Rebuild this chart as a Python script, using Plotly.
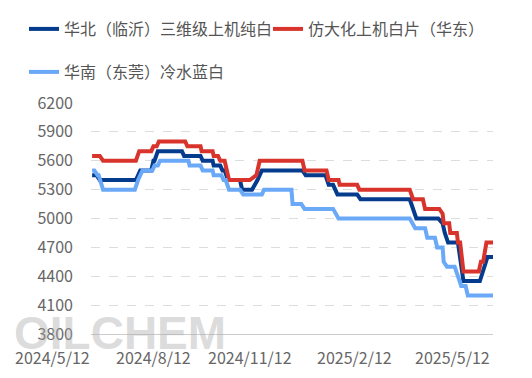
import plotly.graph_objects as go

# ---- data ----
navy_dates = ["2024-05-12","2024-05-16","2024-05-19","2024-06-21","2024-06-25","2024-07-05","2024-07-07","2024-07-08",
              "2024-07-11","2024-08-02","2024-08-04","2024-08-19","2024-08-21","2024-08-30","2024-08-31","2024-09-06",
              "2024-09-08","2024-09-10","2024-09-13","2024-09-24","2024-09-26","2024-10-05","2024-10-10","2024-10-14",
              "2024-11-20","2024-11-23","2024-12-11","2024-12-14","2024-12-18","2024-12-22","2025-01-09","2025-01-12",
              "2025-02-26","2025-03-01","2025-03-04","2025-03-24","2025-03-28","2025-03-30","2025-04-02","2025-04-11",
              "2025-04-16","2025-05-01","2025-05-04","2025-05-08","2025-05-13"]
navy_vals = [5450,5450,5400,5400,5500,5500,5600,5600,
             5700,5700,5650,5650,5600,5600,5550,5550,
             5500,5500,5400,5400,5300,5300,5400,5500,
             5500,5450,5450,5350,5350,5250,5250,5200,
             5200,5100,5000,5000,4950,4850,4750,4750,
             4350,4350,4450,4600,4600]

red_dates = ["2024-05-12","2024-05-19","2024-05-22","2024-06-21","2024-06-24","2024-07-05","2024-07-07","2024-07-10",
             "2024-07-12","2024-08-05","2024-08-07","2024-08-19","2024-08-20","2024-08-30","2024-08-31","2024-09-04",
             "2024-09-06","2024-09-10","2024-09-14","2024-10-03","2024-10-09","2024-10-12","2024-11-20","2024-11-22",
             "2024-12-12","2024-12-14","2024-12-23","2024-12-24","2025-01-09","2025-01-11","2025-02-26","2025-03-01",
             "2025-03-10","2025-03-12","2025-03-25","2025-03-27","2025-03-28","2025-03-29","2025-04-03","2025-04-04",
             "2025-04-10","2025-04-11","2025-04-13","2025-04-16","2025-04-30","2025-05-02","2025-05-04","2025-05-07",
             "2025-05-13"]
red_vals = [5650,5650,5600,5600,5700,5700,5750,5750,
            5800,5800,5750,5750,5700,5700,5650,5650,
            5600,5600,5400,5400,5450,5600,5600,5500,
            5500,5400,5400,5350,5350,5300,5300,5200,
            5200,5100,5100,5050,5050,4950,4950,4850,
            4850,4750,4750,4450,4450,4550,4550,4750,
            4750]

blue_dates = ["2024-05-12","2024-05-14","2024-05-17","2024-05-18","2024-05-22","2024-06-20","2024-06-23","2024-06-27",
              "2024-07-06","2024-07-08","2024-07-11","2024-07-13","2024-08-08","2024-08-09","2024-08-19","2024-08-21",
              "2024-08-30","2024-08-31","2024-09-07","2024-09-09","2024-09-11","2024-09-14","2024-09-24","2024-09-27",
              "2024-10-14","2024-10-16","2024-11-10","2024-11-11","2024-11-19","2024-11-22","2024-12-18","2024-12-23",
              "2025-02-26","2025-03-03","2025-03-12","2025-03-14","2025-03-21","2025-03-23","2025-03-28","2025-03-29",
              "2025-04-01","2025-04-08","2025-04-14","2025-04-18","2025-04-20","2025-05-13"]
blue_vals = [5500,5500,5450,5450,5300,5300,5400,5500,
             5500,5550,5550,5600,5600,5550,5550,5500,
             5500,5450,5450,5400,5400,5300,5300,5250,
             5250,5300,5300,5150,5150,5100,5100,5000,
             5000,4900,4900,4800,4800,4700,4700,4550,
             4500,4500,4300,4300,4200,4200]

series_names = ["华北（临沂）三维级上机纯白", "仿大化上机白片（华东）", "华南（东莞）冷水蓝白"]
series_colors = ["#043b8c", "#d9342b", "#6aa8f8"]

y_ticks = [3800, 4100, 4400, 4700, 5000, 5300, 5600, 5900, 6200]
x_tick_dates = ["2024-05-12", "2024-08-12", "2024-11-12", "2025-02-12", "2025-05-12"]
x_tick_labels = ["2024/5/12", "2024/8/12", "2024/11/12", "2025/2/12", "2025/5/12"]

FONT = "Noto Sans CJK SC, Noto Sans, sans-serif"

# plot area in pixels
PL, PR, PT, PB = 91, 493, 103, 334
PW, PH = PR - PL, PB - PT


def px_x(x):
    return (x - PL) / PW


def px_y(y):
    return (PB - y) / PH


fig = go.Figure()
legend_ids = ["legend", "legend2", "legend3"]
for dates, vals, name, color, lg in zip([navy_dates, red_dates, blue_dates],
                                        [navy_vals, red_vals, blue_vals],
                                        series_names, series_colors, legend_ids):
    fig.add_trace(go.Scatter(x=dates, y=vals, name=name, mode="lines",
                             line=dict(color=color, width=4), legend=lg))

annotations = []
for d, t in zip(x_tick_dates, x_tick_labels):
    annotations.append(dict(x=d, y=0, xref="x", yref="paper", text=t, showarrow=False,
                            xanchor="right", yanchor="middle", yshift=-23,
                            font=dict(family=FONT, size=16, color="#666666")))
annotations.append(dict(x=px_x(120), y=px_y(333), xref="paper", yref="paper", text="<b>OILCHEM</b>",
                        showarrow=False, xanchor="center", yanchor="middle",
                        font=dict(family="Liberation Sans, Arial", size=46, color="rgba(170,170,170,0.42)")))

leg_common = dict(orientation="h", xref="paper", yref="paper", xanchor="left", yanchor="middle",
                  font=dict(family=FONT, size=16, color="#555555"), bgcolor="rgba(0,0,0,0)", itemwidth=30)

fig.update_layout(
    width=532, height=378,
    margin=dict(l=PL, r=532 - PR, t=PT, b=378 - PB, autoexpand=False),
    paper_bgcolor="white", plot_bgcolor="white",
    font=dict(family=FONT, size=16, color="#666666"),
    showlegend=True,
    legend=dict(leg_common, x=px_x(24), y=px_y(29)),
    legend2=dict(leg_common, x=px_x(268), y=px_y(29)),
    legend3=dict(leg_common, x=px_x(24), y=px_y(72)),
    xaxis=dict(type="date", range=["2024-05-11", "2025-05-13"], showgrid=False, showticklabels=False,
               showline=True, linecolor="#cccccc", linewidth=1, zeroline=False, ticks=""),
    yaxis=dict(range=[3800, 6200], tickvals=y_ticks, showgrid=True, gridcolor="#dddddd",
               griddash="dash", gridwidth=1, zeroline=False, showline=False, ticks="",
               ticklabelstandoff=17, tickfont=dict(family=FONT, size=16, color="#666666")),
    annotations=annotations,
)

fig.write_html("out.html")
